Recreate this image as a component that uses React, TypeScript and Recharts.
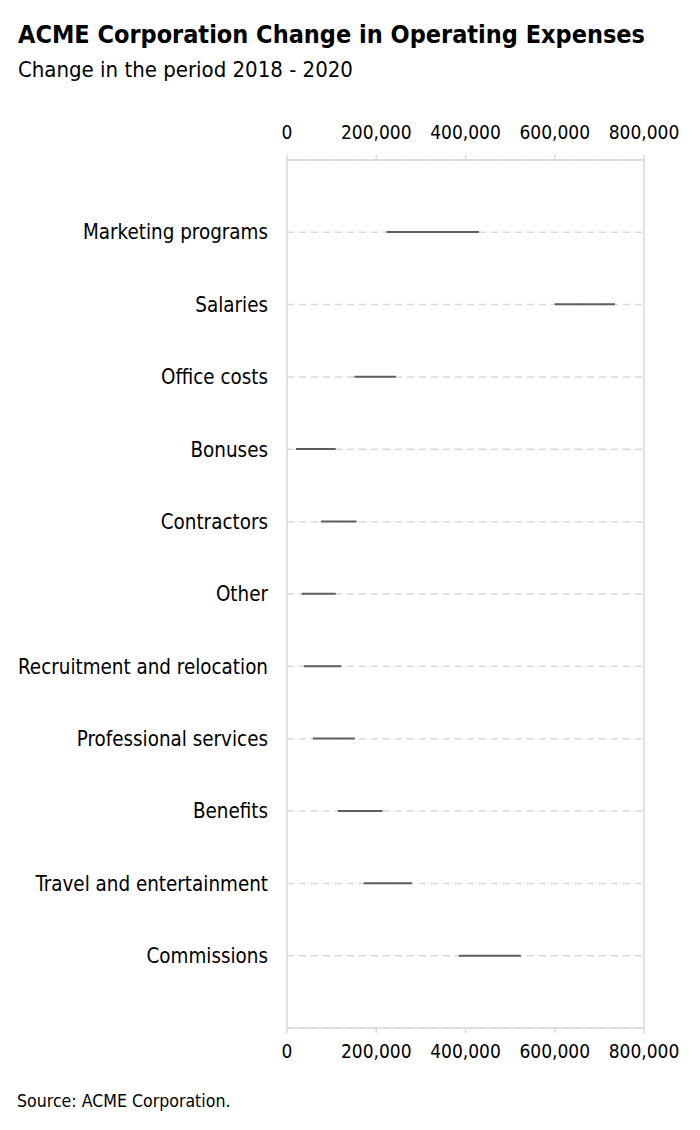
import React from 'react';
import {
  BarChart,
  Bar,
  XAxis,
  YAxis,
  CartesianGrid,
  ReferenceLine,
} from 'recharts';

// categories, top to bottom
const categories = [
  'Marketing programs',
  'Salaries',
  'Office costs',
  'Bonuses',
  'Contractors',
  'Other',
  'Recruitment and relocation',
  'Professional services',
  'Benefits',
  'Travel and entertainment',
  'Commissions',
];

// lowest and highest value over 2018 - 2020
const lowValues = [223000, 600000, 151000, 20000, 76000, 33000, 38000, 58000, 114000, 172000, 385000];
const highValues = [430000, 735000, 244000, 109000, 156000, 109000, 122000, 152000, 214000, 280000, 524000];

const xTicks = [0, 200000, 400000, 600000, 800000];

const FONT = '"DejaVu Sans Condensed", "DejaVu Sans", sans-serif';
const AXIS_GRAY = '#d9d9d9';
const LINE_GRAY = '#5e5e5e';

const data = categories.map((name, i) => ({
  name,
  range: [lowValues[i], highValues[i]],
}));

const fmt = (v: number) => v.toLocaleString('en-US');

export default function App() {
  return (
    <div
      style={{
        position: 'absolute',
        left: 0,
        top: 0,
        width: 700,
        height: 1130,
        background: '#fff',
        fontFamily: FONT,
        color: '#000',
      }}
    >
      <div style={{ position: 'absolute', left: 18, top: 18, fontSize: 25, fontWeight: 'bold', lineHeight: '34px' }}>
        ACME Corporation Change in Operating Expenses
      </div>
      <div style={{ position: 'absolute', left: 18, top: 55, fontSize: 22, lineHeight: '30px' }}>
        Change in the period 2018 - 2020
      </div>
      <div style={{ position: 'absolute', left: 0, top: 0 }}>
        <BarChart
          width={700}
          height={1080}
          data={data}
          layout="vertical"
          margin={{ top: 120, right: 56, bottom: 12, left: 0 }}
        >
          <CartesianGrid
            horizontal={true}
            vertical={false}
            stroke={AXIS_GRAY}
            strokeWidth={1.5}
            strokeDasharray="7 5"
          />
          <XAxis
            xAxisId="top"
            orientation="top"
            type="number"
            domain={[0, 800000]}
            ticks={xTicks}
            allowDataOverflow
            height={40}
            tickFormatter={fmt}
            tick={{ fill: '#000', fontSize: 19, fontFamily: FONT }}
            tickSize={5}
            tickMargin={16}
            stroke={AXIS_GRAY}
            strokeWidth={1.5}
          />
          <XAxis
            xAxisId="bottom"
            orientation="bottom"
            type="number"
            domain={[0, 800000]}
            ticks={xTicks}
            allowDataOverflow
            height={40}
            tickFormatter={fmt}
            tick={{ fill: '#000', fontSize: 19, fontFamily: FONT }}
            tickSize={5}
            tickMargin={12}
            stroke={AXIS_GRAY}
            strokeWidth={1.5}
          />
          <YAxis
            type="category"
            dataKey="name"
            width={287}
            padding={{ top: 36, bottom: 36 }}
            tickLine={false}
            tickSize={0}
            tickMargin={19}
            tick={{ fill: '#000', fontSize: 20.4, fontFamily: FONT }}
            stroke={AXIS_GRAY}
            strokeWidth={1.5}
            interval={0}
          />
          <ReferenceLine x={800000} xAxisId="bottom" stroke={AXIS_GRAY} strokeWidth={1.5} />
          <Bar
            dataKey="range"
            xAxisId="bottom"
            barSize={2}
            fill={LINE_GRAY}
            isAnimationActive={false}
          />
        </BarChart>
      </div>
      <div style={{ position: 'absolute', left: 17, top: 1089, fontSize: 17.6, lineHeight: '24px' }}>
        Source: ACME Corporation.
      </div>
    </div>
  );
}
